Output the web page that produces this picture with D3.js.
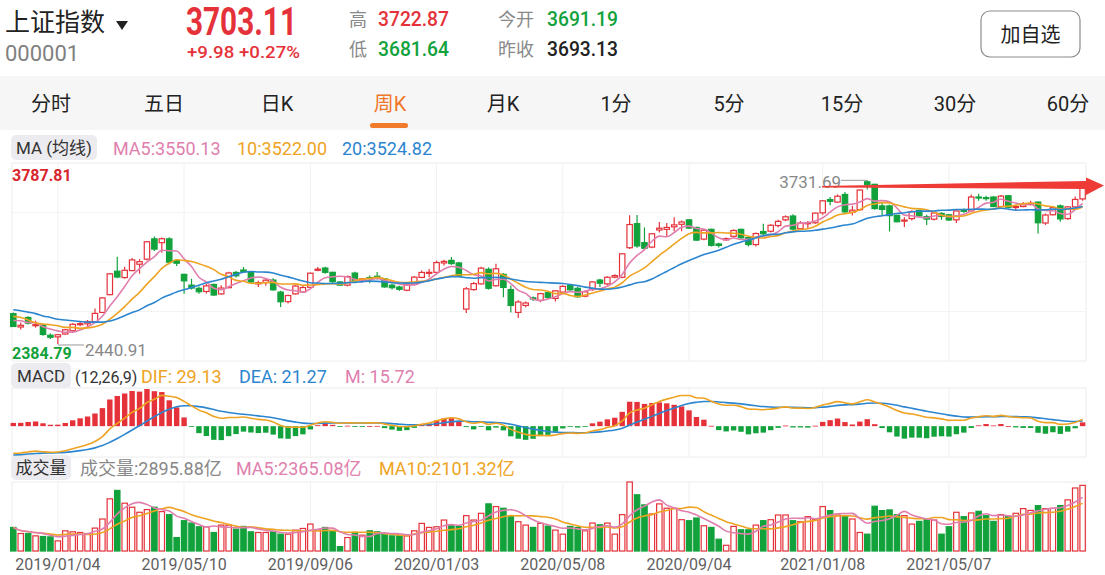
<!DOCTYPE html>
<html>
<head>
<meta charset="utf-8">
<script src="https://cdn.jsdelivr.net/npm/d3@7"></script>
<style>
  body { margin: 0; background: #fff; }
  svg text { font-family: Roboto, "Noto Sans CJK SC", sans-serif; }
</style>
</head>
<body>
<svg id="chart" width="1105" height="575"></svg>
<script>
// weekly candles, 2018/11/23 .. 2021/09/10
var opens = [2680,2575,2650,2590,2590,2510,2497,2520,2545,2595,2600,2615,2690,2830,3015,2965,3020,3070,3110,3270,
  3240,3270,3100,2990,2905,2880,2855,2910,2836,2885,3005,3024,3005,2915,2926,2945,2850,2775,2836,2851,
  2888,3022,3040,3006,2930,2905,3000,2935,2965,2975,2955,2905,2890,2865,2913,2966,3000,3006,3080,3100,
  3080,2716,2870,2915,3030,2900,2990,2870,2690,2745,2805,2785,2845,2800,2850,2905,2880,2818,2870,2945,
  2915,2968,2967,3200,3390,3240,3205,3340,3345,3365,3385,3420,3360,3268,3345,3230,3262,3290,3345,3280,
  3225,3328,3330,3375,3420,3450,3350,3390,3397,3475,3580,3560,3620,3480,3500,3720,3700,3530,3530,3455,
  3410,3430,3495,3445,3425,3470,3460,3420,3500,3490,3600,3595,3600,3525,3610,3520,3525,3540,3560,3395,
  3460,3530,3430,3522,3585];
var highs = [2690,2610,2660,2625,2600,2525,2520,2560,2605,2620,2630,2720,2810,3000,3129,3050,3120,3110,3250,3288,
  3280,3282,3110,2995,2955,2895,2915,2918,2905,3010,3016,3048,3010,2940,2955,2960,2860,2830,2905,2905,
  3005,3048,3050,3010,2935,2980,3010,2960,2982,3008,2960,2915,2900,2918,2975,3020,3033,3098,3105,3127,
  3088,2890,2930,3050,3045,3074,3000,2902,2785,2775,2815,2845,2850,2865,2905,2910,2890,2860,2935,2955,
  2975,2990,3155,3456,3459,3360,3315,3402,3395,3440,3415,3425,3365,3345,3350,3240,3280,3345,3350,3290,
  3320,3390,3385,3420,3455,3465,3410,3410,3475,3577,3600,3620,3640,3530,3660,3731.69,3705,3560,3540,3460,
  3440,3495,3500,3460,3480,3480,3465,3495,3510,3620,3625,3610,3605,3615,3615,3540,3560,3570,3565,3470,
  3530,3540,3530,3605,3722.87];
var lows = [2575,2555,2595,2570,2505,2480,2440.91,2515,2535,2580,2575,2610,2685,2825,2960,2955,3015,2995,3100,3175,
  3160,3070,3055,2838,2870,2838,2840,2822,2830,2880,2966,3005,2915,2891,2900,2860,2733,2760,2830,2850,
  2880,3015,2995,2920,2905,2895,2935,2925,2920,2950,2885,2870,2860,2857,2905,2960,2967,3000,3060,3065,
  2970,2685,2860,2910,2870,2895,2810,2690,2646,2730,2780,2770,2795,2775,2840,2860,2805,2810,2860,2890,
  2905,2960,2960,3190,3200,3190,3195,3320,3290,3330,3330,3350,3254,3260,3210,3202,3255,3280,3270,3210,
  3210,3300,3320,3360,3410,3340,3340,3350,3390,3460,3536,3555,3470,3455,3490,3660,3500,3455,3328,3400,
  3364,3415,3440,3380,3415,3420,3410,3395,3475,3485,3570,3570,3520,3515,3515,3490,3520,3535,3312,3380,
  3455,3405,3420,3515,3570];
var closes = [2579,2588,2605,2593,2516,2494,2514,2553,2596,2601,2618,2682,2804,2994,2969,3022,3104,3090,3247,3189,
  3271,3086,3078,2939,2882,2853,2899,2827,2882,3001,2979,3011,2930,2924,2944,2868,2774,2823,2898,2886,
  2999,3031,3006,2932,2905,2973,2938,2955,2958,2964,2891,2885,2872,2912,2968,3005,3006,3083,3092,3075,
  2976,2876,2917,3039,2880,3034,2887,2745,2772,2764,2796,2838,2808,2860,2895,2868,2813,2852,2930,2920,
  2967,2980,3152,3383,3214,3196,3310,3354,3360,3380,3403,3355,3260,3338,3219,3218,3272,3336,3278,3225,
  3312,3310,3377,3408,3444,3347,3395,3397,3473,3570,3566,3606,3483,3496,3655,3696,3509,3502,3453,3405,
  3418,3484,3451,3426,3474,3447,3419,3490,3487,3600,3592,3589,3525,3607,3519,3525,3539,3550,3397,3458,
  3517,3427,3522,3581,3703.11];
// 2018 weekly closes before the first candle, only for MA / MACD warm-up
var priorCloses = [3391,3429,3488,3558,3462,3129,3199,3289,3254,3307,3269,3152,3168,3131,3159,3071,3082,3091,
  3163,3193,3141,3075,3067,3022,2889,2847,2747,2831,2829,2873,2740,2795,2669,2729,2725,2702,2681,2797,
  2821,2606,2550,2598,2676,2599,2679];
// weekly volume, 亿
var volumes = [1040,772,772,668,639,624,446,891,846,817,772,1010,1411,2302,2673,2109,1931,1708,1827,1931,
  1737,1604,594,1337,1233,1069,1069,817,1143,1143,965,1084,846,817,817,846,743,743,921,995,
  1188,936,1040,891,193,594,817,698,891,846,743,668,668,668,891,1218,1040,1069,1366,1114,
  1084,1559,1366,1663,2079,1960,1886,1515,1292,1143,1040,1218,1100,921,743,1084,1040,891,1233,1158,
  1233,743,1604,3044,2480,2034,1634,2079,1886,1886,1381,1337,1455,1114,1040,520,252,1084,936,936,
  1143,1337,1381,1589,1589,1337,1292,1515,1381,1960,1782,1589,1559,1411,817,743,1975,1782,1812,1604,
  1559,1188,1307,1411,1366,743,1069,1708,1515,1678,1752,1559,1307,1604,1530,1663,1870,1790,2000,1870,
  1886,2005,2257,2780,2895.88];

var priceAxis = [2384.79, 3787.81];
var dateTicks = [6, 23, 40, 57, 74, 91, 109, 126];
var dateLabels = ['2019/01/04','2019/05/10','2019/09/06','2020/01/03','2020/05/08','2020/09/04','2021/01/08','2021/05/07'];
var tabs = ['分时','五日','日K','周K','月K','1分','5分','15分','30分','60分'];

var RED = '#e5323a', GREEN = '#12a23c', PINK = '#e07fae', ORANGE = '#eea322', BLUE = '#2c85cf';

var svg = d3.select('#chart');
var n = closes.length;
var xc = d3.scaleLinear().domain([0, n - 1]).range([13.3, 1082.6]);
var bw = 5.4;

function movingAvg(arr, offset, len) {
    var out = [];
    for (var i = offset; i < arr.length; i++) {
        var s = arr.slice(Math.max(0, i - len + 1), i + 1);
        out.push(d3.mean(s));
    }
    return out;
}

////////////////// header
svg.append('text').attr('x', 5).attr('y', 31).attr('font-size', 25).attr('fill', '#222').text('上证指数');
svg.append('path').attr('d', 'M116,21 L128,21 L122,30 Z').attr('fill', '#222');
svg.append('text').attr('x', 5).attr('y', 61).attr('font-size', 22).attr('fill', '#808080').text('000001');
svg.append('text').attr('x', 186).attr('y', 35).attr('font-size', 38).attr('font-weight', 'bold')
    .attr('fill', RED).attr('textLength', 111).attr('lengthAdjust', 'spacingAndGlyphs').text('3703.11');
svg.append('text').attr('x', 187).attr('y', 58).attr('font-size', 16).attr('font-weight', 500).attr('fill', RED)
    .attr('textLength', 113).attr('lengthAdjust', 'spacingAndGlyphs').text('+9.98  +0.27%');

var quote = [
    {k: '高', v: '3722.87', c: RED, x: 349, y: 26},
    {k: '低', v: '3681.64', c: GREEN, x: 349, y: 56},
    {k: '今开', v: '3691.19', c: GREEN, x: 498, y: 26},
    {k: '昨收', v: '3693.13', c: '#222', x: 498, y: 56}
];
quote.forEach(function(d) {
    svg.append('text').attr('x', d.x).attr('y', d.y).attr('font-size', 18).attr('fill', '#888').text(d.k);
    svg.append('text').attr('x', d.k.length == 1 ? 378 : 547).attr('y', d.y).attr('font-size', 20).attr('font-weight', 500)
        .attr('fill', d.c).attr('textLength', 71).attr('lengthAdjust', 'spacingAndGlyphs').text(d.v);
});

svg.append('rect').attr('x', 981).attr('y', 11).attr('width', 99).attr('height', 46).attr('rx', 9)
    .attr('fill', '#fff').attr('stroke', '#8c8c8c').attr('stroke-width', 1.2);
svg.append('text').attr('x', 1030.5).attr('y', 42).attr('text-anchor', 'middle').attr('font-size', 20)
    .attr('fill', '#222').text('加自选');

////////////////// tab bar
svg.append('rect').attr('x', 0).attr('y', 76).attr('width', 1105).attr('height', 54).attr('fill', '#f6f6f6');
svg.selectAll('.tab').data(tabs).enter().append('text')
    .attr('class', 'tab')
    .attr('x', function(d, i) { return 51 + i * 113; })
    .attr('y', 111)
    .attr('text-anchor', 'middle')
    .attr('font-size', 20)
    .attr('fill', function(d) { return d == '周K' ? '#f0772a' : '#222'; })
    .text(function(d) { return d; });
svg.append('rect').attr('x', 370).attr('y', 123).attr('width', 38).attr('height', 5).attr('rx', 2.5).attr('fill', '#f27a2b');

////////////////// legends
function tagBox(x, y, w, label) {
    svg.append('rect').attr('x', x).attr('y', y).attr('width', w).attr('height', 25).attr('rx', 5).attr('fill', '#ececf0');
    svg.append('text').attr('x', x + w / 2).attr('y', y + 18.5).attr('text-anchor', 'middle')
        .attr('font-size', 17).attr('fill', '#333').text(label);
}
function legendText(x, y, str, color, size) {
    svg.append('text').attr('x', x).attr('y', y).attr('font-size', size || 18).attr('fill', color).text(str);
}

tagBox(11, 135, 86, 'MA (均线)');
legendText(113, 155, 'MA5:3550.13', PINK);
legendText(237, 155, '10:3522.00', ORANGE);
legendText(342, 155, '20:3524.82', BLUE);

tagBox(11, 363, 60, 'MACD');
legendText(75, 383, '(12,26,9)', '#333', 16);
legendText(141, 383, 'DIF: 29.13', ORANGE);
legendText(239, 383, 'DEA: 21.27', BLUE);
legendText(345, 383, 'M: 15.72', PINK);

tagBox(11, 455, 60, '成交量');
legendText(80, 475, '成交量:2895.88亿', '#888');
legendText(236, 475, 'MA5:2365.08亿', PINK);
legendText(379, 475, 'MA10:2101.32亿', ORANGE);

////////////////// panel frames + grid
var panes = [{t: 163, b: 361}, {t: 388, b: 457}, {t: 482, b: 551}];
panes.forEach(function(p) {
    svg.append('rect').attr('x', 12).attr('y', p.t).attr('width', 1074).attr('height', p.b - p.t)
        .attr('fill', 'none').attr('stroke', '#ececec');
    svg.selectAll(null).data(dateTicks).enter().append('line')
        .attr('x1', function(d) { return xc(d); }).attr('x2', function(d) { return xc(d); })
        .attr('y1', p.t).attr('y2', p.b).attr('stroke', '#f1f1f1');
});
[212.5, 262, 311.5].forEach(function(gy) {
    svg.append('line').attr('x1', 12).attr('x2', 1086).attr('y1', gy).attr('y2', gy).attr('stroke', '#f3f3f3');
});

////////////////// candles
var y = d3.scaleLinear().domain(priceAxis).range([351.1, 173.2]);

var candles = d3.range(n).map(function(i) {
    return {i: i, o: opens[i], h: highs[i], l: lows[i], c: closes[i], v: volumes[i], up: closes[i] >= opens[i]};
});

var cg = svg.append('g');
cg.selectAll('line').data(candles).enter().append('line')
    .attr('x1', function(d) { return xc(d.i); }).attr('x2', function(d) { return xc(d.i); })
    .attr('y1', function(d) { return y(d.h); }).attr('y2', function(d) { return y(d.l); })
    .attr('stroke', function(d) { return d.up ? RED : GREEN; }).attr('stroke-width', 1.2);
cg.selectAll('rect').data(candles).enter().append('rect')
    .attr('x', function(d) { return xc(d.i) - bw / 2; })
    .attr('y', function(d) { return y(Math.max(d.o, d.c)); })
    .attr('width', bw)
    .attr('height', function(d) { return Math.max(1, Math.abs(y(d.o) - y(d.c))); })
    .attr('fill', function(d) { return d.up ? '#fff' : GREEN; })
    .attr('stroke', function(d) { return d.up ? RED : GREEN; })
    .attr('stroke-width', 1.2);

var allCloses = priorCloses.concat(closes);
var maSets = [
    {data: movingAvg(allCloses, priorCloses.length, 5), color: PINK},
    {data: movingAvg(allCloses, priorCloses.length, 10), color: ORANGE},
    {data: movingAvg(allCloses, priorCloses.length, 20), color: BLUE}
];
var priceLine = d3.line().x(function(d, i) { return xc(i); }).y(function(d) { return y(d); }).curve(d3.curveMonotoneX);
maSets.forEach(function(s) {
    svg.append('path').attr('d', priceLine(s.data)).attr('fill', 'none').attr('stroke', s.color).attr('stroke-width', 1.6);
});

// axis extremes
svg.append('text').attr('x', 12).attr('y', 181).attr('font-size', 16).attr('font-weight', 'bold')
    .attr('fill', '#d7262e').text(priceAxis[1].toFixed(2));
svg.append('text').attr('x', 12).attr('y', 359).attr('font-size', 16).attr('font-weight', 'bold')
    .attr('fill', GREEN).text(priceAxis[0].toFixed(2));

// max / min markers
var hiIdx = d3.maxIndex(highs), loIdx = d3.minIndex(lows);
svg.append('line').attr('x1', xc(hiIdx)).attr('x2', 841).attr('y1', y(highs[hiIdx])).attr('y2', y(highs[hiIdx]))
    .attr('stroke', '#999');
svg.append('text').attr('x', 841).attr('y', y(highs[hiIdx]) + 8).attr('text-anchor', 'end').attr('font-size', 17)
    .attr('fill', '#888').text(highs[hiIdx].toFixed(2));
svg.append('line').attr('x1', xc(loIdx)).attr('x2', 84).attr('y1', y(lows[loIdx]) + 1).attr('y2', y(lows[loIdx]) + 1)
    .attr('stroke', '#999');
svg.append('text').attr('x', 85).attr('y', y(lows[loIdx]) + 12).attr('font-size', 17)
    .attr('fill', '#888').text(lows[loIdx].toFixed(2));

// red arrow annotation
svg.append('path')
    .attr('d', 'M822,186 L1086,181 L1086,177.5 L1104,185.5 L1086,195 L1086,189 L822,187.5 Z')
    .attr('fill', '#ef3b36');

////////////////// MACD
var e12 = allCloses[0], e26 = allCloses[0], dea = 0;
var macd = [];
allCloses.forEach(function(c, k) {
    if (k > 0) {
        e12 = e12 * 11 / 13 + c * 2 / 13;
        e26 = e26 * 25 / 27 + c * 2 / 27;
    }
    var dif = e12 - e26;
    dea = k > 0 ? dea * 0.8 + dif * 0.2 : dif;
    if (k >= priorCloses.length) macd.push({dif: dif, dea: dea, m: 2 * (dif - dea)});
});
var macdExt = d3.extent(macd.reduce(function(a, d) { return a.concat([d.dif, d.dea, d.m]); }, []));
var ym = d3.scaleLinear().domain(macdExt).range([455, 389]);

svg.append('g').selectAll('rect').data(macd).enter().append('rect')
    .attr('x', function(d, i) { return xc(i) - bw / 2; })
    .attr('y', function(d) { return Math.min(ym(0), ym(d.m)); })
    .attr('width', bw)
    .attr('height', function(d) { return Math.max(0.8, Math.abs(ym(d.m) - ym(0))); })
    .attr('fill', function(d) { return d.m >= 0 ? RED : GREEN; });

var difLine = d3.line().x(function(d, i) { return xc(i); }).y(function(d) { return ym(d.dif); }).curve(d3.curveMonotoneX);
var deaLine = d3.line().x(function(d, i) { return xc(i); }).y(function(d) { return ym(d.dea); }).curve(d3.curveMonotoneX);
svg.append('path').attr('d', deaLine(macd)).attr('fill', 'none').attr('stroke', BLUE).attr('stroke-width', 1.6);
svg.append('path').attr('d', difLine(macd)).attr('fill', 'none').attr('stroke', ORANGE).attr('stroke-width', 1.6);

////////////////// volume
var yv = d3.scaleLinear().domain([0, d3.max(volumes)]).range([551, 482]);
svg.append('g').selectAll('rect').data(candles).enter().append('rect')
    .attr('x', function(d) { return xc(d.i) - bw / 2; })
    .attr('y', function(d) { return yv(d.v); })
    .attr('width', bw)
    .attr('height', function(d) { return 551 - yv(d.v); })
    .attr('fill', function(d) { return d.up ? '#fff' : GREEN; })
    .attr('stroke', function(d) { return d.up ? RED : GREEN; })
    .attr('stroke-width', 1.2);

var volLine = d3.line().x(function(d, i) { return xc(i); }).y(function(d) { return yv(d); }).curve(d3.curveMonotoneX);
svg.append('path').attr('d', volLine(movingAvg(volumes, 0, 10))).attr('fill', 'none').attr('stroke', ORANGE).attr('stroke-width', 1.6);
svg.append('path').attr('d', volLine(movingAvg(volumes, 0, 5))).attr('fill', 'none').attr('stroke', PINK).attr('stroke-width', 1.6);

// date axis
svg.selectAll('.date').data(dateTicks).enter().append('text')
    .attr('class', 'date')
    .attr('x', function(d) { return xc(d); })
    .attr('y', 570)
    .attr('text-anchor', 'middle')
    .attr('font-size', 16)
    .attr('fill', '#5f5f5f')
    .text(function(d, i) { return dateLabels[i]; });
</script>
</body>
</html>
